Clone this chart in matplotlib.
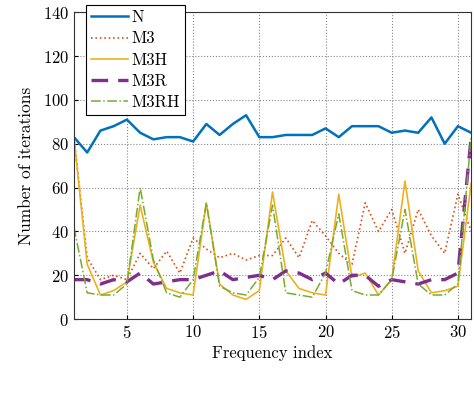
import matplotlib
matplotlib.use("Agg")
import matplotlib.pyplot as plt
import numpy as np

plt.rcParams["font.family"] = ["cmr10", "DejaVu Serif"]
plt.rcParams["mathtext.fontset"] = "cm"
plt.rcParams["axes.formatter.use_mathtext"] = True

freq = np.arange(1, 32)

n_iter = [83, 76, 86, 88, 91, 85, 82, 83, 83, 81, 89, 84, 89, 93, 83, 83,
          84, 84, 84, 87, 83, 88, 88, 88, 85, 86, 85, 92, 80, 88, 85]
m3 = [83, 28, 18, 20, 18, 30, 23, 31, 21, 37, 32, 28, 30, 27, 29, 29,
      37, 28, 45, 38, 30, 25, 53, 40, 50, 30, 50, 38, 30, 57, 40]
m3h = [83, 25, 11, 13, 17, 52, 26, 14, 12, 11, 53, 16, 11, 9, 13, 58,
       22, 14, 12, 11, 57, 19, 21, 11, 18, 63, 22, 12, 13, 15, 62]
m3r = [18, 18, 16, 18, 17, 21, 16, 17, 18, 18, 20, 22, 18, 19, 20, 18,
       22, 21, 18, 21, 16, 20, 20, 15, 18, 17, 16, 18, 18, 21, 83]
m3rh = [42, 12, 11, 11, 16, 60, 27, 12, 10, 18, 53, 15, 12, 11, 19, 52,
        12, 11, 10, 21, 48, 13, 11, 11, 18, 50, 16, 11, 11, 16, 83]

fig = plt.figure(figsize=(4.74, 3.93), dpi=100)
ax = fig.add_axes([0.156, 0.188, 0.838, 0.781])

ax.plot(freq, n_iter, color="#0072BD", lw=1.8, label="N")
ax.plot(freq, m3, color="#D95319", lw=1.2, ls=":", label="M3")
ax.plot(freq, m3h, color="#EDB120", lw=1.2, label="M3H")
ax.plot(freq, m3r, color="#7E2F8E", lw=2.4, ls=(0, (5, 3)), label="M3R")
ax.plot(freq, m3rh, color="#77AC30", lw=1.1, ls="-.", label="M3RH")

ax.set_xlim(1, 31)
ax.set_ylim(0, 140)
ax.set_xticks([5, 10, 15, 20, 25, 30])
ax.set_yticks(range(0, 141, 20))
ax.tick_params(direction="in", labelsize=12, length=3, top=False, right=False)
ax.grid(True, ls=":", color="#888888", lw=0.8)
ax.set_xlabel("Frequency index", fontsize=12, labelpad=3)
ax.set_ylabel("Number of iterations", fontsize=12.5, labelpad=6)
for s in ax.spines.values():
    s.set_color("#333333")

leg = ax.legend(loc="upper left", bbox_to_anchor=(86 / 474, 1 - 5 / 393),
                bbox_transform=fig.transFigure, borderaxespad=0,
                fontsize=12, fancybox=False, framealpha=1,
                handlelength=2.2, labelspacing=0.35, borderpad=0.3,
                handletextpad=0.2)
leg.get_frame().set_edgecolor("black")
leg.get_frame().set_linewidth(0.8)

fig.savefig("out.png", dpi=100)
